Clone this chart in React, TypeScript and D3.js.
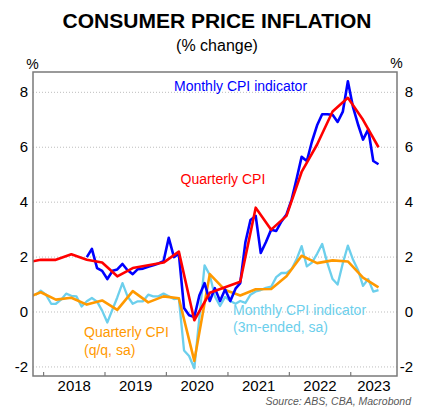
import React from 'react';
import * as d3 from 'd3';

// quarterly series, Q3 2017 .. Q2 2023 (plotted mid last month of quarter)
const quarterStart = [2017, 8];
const quarterlyAnnual = [1.8, 1.9, 1.9, 2.1, 1.9, 1.8, 1.3, 1.6, 1.7, 1.8, 2.2, -0.3, 0.7, 0.9, 1.1, 3.8, 3.0, 3.5, 5.1, 6.1, 7.3, 7.8, 7.0, 6.0];
const quarterlyQoq = [0.5, 0.72, 0.45, 0.52, 0.27, 0.42, 0.08, 0.76, 0.35, 0.57, 0.5, -1.78, 1.38, 0.8, 0.6, 0.83, 0.84, 1.3, 2.05, 1.78, 1.88, 1.84, 1.25, 0.9];

// monthly CPI indicator, annual, Sep 2018 .. Jun 2023
const monthlyStart = [2018, 8];
const monthlyAnnual = [
  2.0, 2.3, 1.6, 1.5,
  1.2, 1.5, 1.55, 1.75, 1.52, 1.38, 1.56, 1.58, 1.65, 1.7, 1.77, 1.85,
  2.7, 2.0, 2.12, 0.15, -0.12, -0.18, 0.6, 1.05, 0.4, 0.87, 0.4, 0.82,
  0.4, 0.85, 1.05, 2.55, 3.35, 3.5, 2.15, 2.55, 3.0, 2.95, 3.3, 3.55,
  4.1, 4.9, 5.65, 5.5, 6.2, 6.8, 7.2, 7.2, 7.18, 6.92, 7.3, 8.4,
  7.45, 6.8, 6.28, 6.65, 5.5, 5.38,
];

// monthly CPI indicator, 3m-ended sa, Nov 2017 .. Jun 2023
const threeMonthStart = [2017, 10];
const threeMonthSa = [
  0.62, 0.78,
  0.63, 0.3, 0.3, 0.45, 0.67, 0.59, 0.57, 0.2, 0.39, 0.51, 0.38, 0.05,
  -0.38, 0.1, 0.53, 1.05, 0.57, 0.3, 0.39, 0.39, 0.63, 0.57, 0.57, 0.67,
  0.57, 0.47, 0.5, -1.4, -1.6, -2.05, -0.2, 1.7, 1.35, 0.57, 0.22, 0.55,
  0.4, 0.3, 0.4, 0.33, 0.63, 0.75, 0.8, 0.88, 0.92, 1.27, 1.42, 1.42,
  1.57, 1.95, 2.4, 1.66, 1.8, 2.12, 2.48, 1.78, 1.2, 1.0, 1.78, 2.42,
  1.9, 1.5, 0.95, 1.2, 0.74, 0.8,
];

const yTicks = [-2, 0, 2, 4, 6, 8];
const years = [2018, 2019, 2020, 2021, 2022, 2023];

type Pt = { date: Date; value: number };

const toSeries = (start: number[], values: number[], stepMonths: number): Pt[] =>
  values.map((v, i) => ({ date: new Date(start[0], start[1] + i * stepMonths, 15), value: v }));

const W = 434;
const H = 413;
const left = 33;
const right = 397;
const top = 72;
const bottom = 376;

const font = '"Liberation Sans", Arial, sans-serif';

const App: React.FC = () => {
  const x = d3.scaleTime().domain([new Date(2017, 9, 30), new Date(2023, 9, 3)]).range([left, right]);
  const y = d3.scaleLinear().domain([-2.33, 8.74]).range([bottom, top]);

  const line = d3
    .line<Pt>()
    .x((d) => x(d.date))
    .y((d) => y(d.value));

  const series = [
    { data: toSeries(threeMonthStart, threeMonthSa, 1), color: '#6ccfec', width: 2.3 },
    { data: toSeries(quarterStart, quarterlyQoq, 3), color: '#ff9900', width: 2.6 },
    { data: toSeries(monthlyStart, monthlyAnnual, 1), color: '#0000ff', width: 2.6 },
    { data: toSeries(quarterStart, quarterlyAnnual, 3), color: '#ff0000', width: 2.6 },
  ];

  const domainEnd = x.domain()[1];

  return (
    <svg width={W} height={H} style={{ position: 'absolute', left: 0, top: 0, background: '#fff' }} fontFamily={font}>
      <defs>
        <clipPath id="plot">
          <rect x={left} y={top} width={right - left} height={bottom - top} />
        </clipPath>
      </defs>

      <text x={217} y={28} textAnchor="middle" fontSize={21} fontWeight="bold" fill="#000">
        CONSUMER PRICE INFLATION
      </text>
      <text x={217} y={51} textAnchor="middle" fontSize={16} fill="#000">
        (% change)
      </text>

      {yTicks.map((t) => (
        <line key={t} x1={left} x2={right} y1={y(t)} y2={y(t)} stroke="#bdbdbd" strokeWidth={1} strokeDasharray="1,2" />
      ))}

      <g clipPath="url(#plot)">
        {series.map((s, i) => (
          <path key={i} d={line(s.data) || ''} fill="none" stroke={s.color} strokeWidth={s.width} strokeLinejoin="round" />
        ))}
      </g>

      <rect x={left} y={top} width={right - left} height={bottom - top} fill="none" stroke="#7a7a7a" strokeWidth={1.5} />

      {years.map((yr) => (
        <line key={yr} x1={x(new Date(yr, 0, 1))} x2={x(new Date(yr, 0, 1))} y1={bottom} y2={bottom - 4} stroke="#7a7a7a" strokeWidth={1.2} />
      ))}

      {years.map((yr) => {
        const a = x(new Date(yr, 0, 1));
        const endDate = new Date(yr + 1, 0, 1);
        const b = x(endDate > domainEnd ? domainEnd : endDate);
        return (
          <text key={yr} x={(a + b) / 2} y={391} textAnchor="middle" fontSize={15} fill="#000">
            {yr}
          </text>
        );
      })}

      {yTicks.map((t) => (
        <g key={t}>
          <text x={28} y={y(t) + 5} textAnchor="end" fontSize={15} fill="#000">
            {t}
          </text>
          <text x={413} y={y(t) + 5} textAnchor="end" fontSize={15} fill="#000">
            {t}
          </text>
        </g>
      ))}

      <text x={32.5} y={69} textAnchor="middle" fontSize={14} fill="#000">%</text>
      <text x={396.5} y={68} textAnchor="middle" fontSize={14} fill="#000">%</text>

      <text x={174} y={90.5} fontSize={14} fill="#0000ff">Monthly CPI indicator</text>
      <text x={180.5} y={184} fontSize={14} fill="#ff0000">Quarterly CPI</text>
      <text x={84} y={337} fontSize={14} fill="#ff9900">Quarterly CPI</text>
      <text x={84} y={355} fontSize={14} fill="#ff9900">(q/q, sa)</text>
      <text x={233} y={315} fontSize={14} fill="#6ccfec">Monthly CPI indicator</text>
      <text x={233} y={332} fontSize={14} fill="#6ccfec">(3m-ended, sa)</text>

      <text x={411} y={405} textAnchor="end" fontSize={10.5} fontStyle="italic" fill="#595959">
        Source: ABS, CBA, Macrobond
      </text>
    </svg>
  );
};

export default App;
